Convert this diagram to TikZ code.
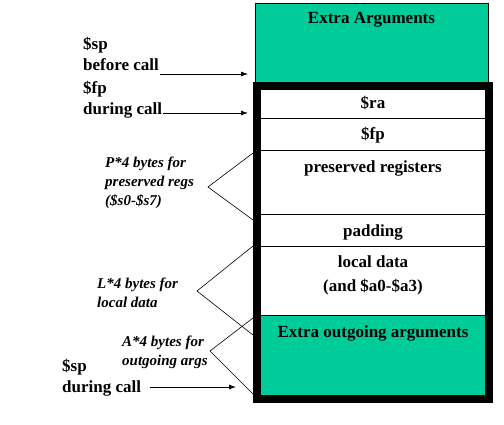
\documentclass[tikz,border=0pt]{standalone}
\usepackage{fontspec}
\setmainfont{Liberation Serif}
\usetikzlibrary{arrows.meta}

\begin{document}
\begin{tikzpicture}[x=1pt, y=-1pt]
  % Colors
  \definecolor{argcol}{RGB}{0,204,153}
  %
  \def\fl{257}   % frame left
  \def\fr{489}   % frame right
  \def\cx{373}   % text centre of the stack
  %
  \tikzset{
    rowtxt/.style={inner sep=0pt, align=center, font=\fontsize{17}{24}\selectfont\bfseries},
    sidelbl/.style={inner sep=0pt, align=left, anchor=west, font=\fontsize{17}{21}\selectfont\bfseries},
    bytelbl/.style={inner sep=0pt, align=left, anchor=west, font=\fontsize{15}{19}\selectfont\bfseries\itshape},
    ptr/.style={line width=0.8pt, -{Latex[length=7pt,width=5pt]}},
    brk/.style={line width=0.6pt},
    rowline/.style={line width=0.8pt},
  }
  \useasboundingbox (0,0) rectangle (504,425);
  %
  %%% STACK %%%
  % caller's extra arguments
  \draw[rowline, fill=argcol] (255,3) rectangle (488,86);
  \node[rowtxt] (xargs) at (371.5,20) {Extra Arguments};
  %
  % outgoing arguments
  \fill[argcol] (\fl,315) rectangle (\fr,399);
  %
  % row separators
  \foreach \y in {118,150,214,246,315} {
    \draw[rowline] (\fl,\y) -- (\fr,\y);
  }
  %
  % row texts
  \node[rowtxt] (ra)    at (\cx,103) {\$ra};
  \node[rowtxt] (fp)    at (\cx,135) {\$fp};
  \node[rowtxt] (pres)  at (\cx,168) {preserved registers};
  \node[rowtxt] (pad)   at (\cx,232) {padding};
  \node[rowtxt] (local) at (\cx,275) {local data\\(and \$a0-\$a3)};
  \node[rowtxt] (oargs) at (\cx,333) {Extra outgoing arguments};
  %
  % the frame
  \draw[line width=8pt] (\fl,86.5) rectangle (\fr,399);
  %
  %%% LEFT SIDE %%%
  % pointers
  \node[sidelbl] (spbefore) at (83,54)  {\$sp\\before call};
  \node[sidelbl] (fpduring) at (83,100) {\$fp\\during call};
  \node[sidelbl] (spduring) at (62,378) {\$sp\\during call};
  %
  \coordinate (spbA) at (160,74);  \coordinate (spbB) at (248,74);
  \coordinate (fpdA) at (163,113); \coordinate (fpdB) at (248,113);
  \coordinate (spdA) at (150,387); \coordinate (spdB) at (236,387);
  \draw[ptr] (spbA) -- (spbB);
  \draw[ptr] (fpdA) -- (fpdB);
  \draw[ptr] (spdA) -- (spdB);
  %
  % sizes
  \node[bytelbl] (psize) at (105,183)   {P*4 bytes for\\preserved regs\\(\$s0-\$s7)};
  \node[bytelbl] (lsize) at (97,292.5)  {L*4 bytes for\\local data};
  \node[bytelbl] (asize) at (122,352)   {A*4 bytes for\\outgoing args};
  %
  \coordinate (pv) at (208,187); \coordinate (pt) at (253,153); \coordinate (pb) at (253,220);
  \coordinate (lv) at (197,291); \coordinate (lt) at (253,246); \coordinate (lb) at (253,335);
  \coordinate (av) at (210,351); \coordinate (at) at (253,318); \coordinate (ab) at (254,395);
  \draw[brk] (pt) -- (pv) -- (pb);
  \draw[brk] (lt) -- (lv) -- (lb);
  \draw[brk] (at) -- (av) -- (ab);
\end{tikzpicture}
\end{document}
